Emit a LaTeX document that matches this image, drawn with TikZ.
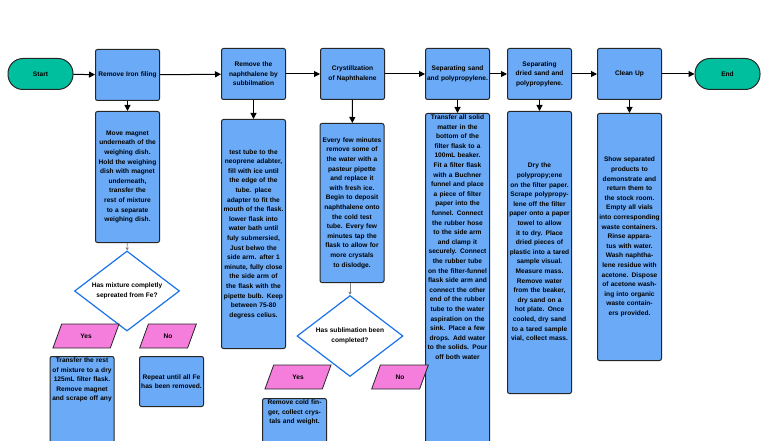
\documentclass[tikz,border=0pt]{standalone}
\usepackage{fontspec}
\setmainfont{Liberation Sans}
\usetikzlibrary{shapes.geometric,arrows.meta}
\definecolor{boxblue}{HTML}{6AAAF7}
\definecolor{dblue}{HTML}{1A73E8}
\definecolor{pinkf}{HTML}{F57EDD}
\definecolor{tealf}{HTML}{00BF9F}
\begin{document}
\begin{tikzpicture}[x=1pt,y=-1pt,
  every node/.style={font=\fontsize{6.6}{9.6}\selectfont\bfseries, inner sep=1.5pt},
  box/.style={draw=black!85, line width=1pt, fill=boxblue, rounded corners=2pt, text width=61pt, align=center},
  hdr/.style={box, minimum height=51pt},
  term/.style={draw=black!85, line width=1pt, fill=tealf, rounded corners=15pt, minimum width=65pt, minimum height=31pt},
  dec/.style={diamond, draw=dblue, line width=1.2pt, fill=white, aspect=1.3, align=center, inner sep=0pt},
  yn/.style={trapezium, trapezium left angle=70, trapezium right angle=110, draw=black!85, line width=0.8pt, fill=pinkf, minimum width=30pt, minimum height=24pt, inner sep=1pt},
  arr/.style={-{Triangle[length=6pt,width=6pt]}, line width=1pt},
  garr/.style={-{Triangle[length=3pt,width=3pt]}, line width=0.6pt, draw=gray}]
\clip (0,0) rectangle (784,441);
\fill[white] (0,0) rectangle (784,441);
\node[term] (start) at (40.5,74) {Start};
\node[term] (end) at (727.5,74) {End};
\node[hdr, anchor=north] (h1) at (127.5,49) {Remove Iron filing};
\node[hdr, anchor=north] (h2) at (253.5,48) {Remove the naphthalene by subbilmation};
\node[hdr, anchor=north] (h3) at (352.5,48) {Crystillzation of Naphthalene};
\node[hdr, anchor=north] (h4) at (457.5,48) {Separating sand and polypropylene.};
\node[hdr, anchor=north] (h5) at (539.5,48) {Separating dried sand and polypropylene.};
\node[hdr, anchor=north] (h6) at (629.5,48) {Clean Up};

\node[box, anchor=north, minimum height=131pt] (d1) at (127.5,111) {Move magnet underneath of the weighing dish. Hold the weighing dish with magnet underneath, transfer the rest of mixture to a separate weighing dish.};
\node[box, anchor=north, minimum height=229pt] (d2) at (253.5,119) {test tube to the neoprene adabter, fill with ice until the edge of the tube. place adapter to fit the mouth of the flask. lower flask into water bath until fuly submersied, Just belwo the side arm. after 1 minute, fully close the side arm of the flask with the pipette bulb. Keep between 75-80 degress celius.};
\node[box, anchor=north, minimum height=159pt] (d3) at (352,123) {Every few minutes remove some of the water with a pasteur pipette and replace it with fresh ice. Begin to deposit naphthalene onto the cold test tube. Every few minutes tap the flask to allow for more crystals to dislodge.};
\node[box, anchor=north, minimum height=345pt] (d4) at (457.5,113) {};
\node[anchor=north, text width=61pt, align=center] (d4t) at (d4.north) {Transfer all solid matter in the bottom of the filter flask to a 100mL beaker. Fit a filter flask with a Buchner funnel and place a piece of filter paper into the funnel. Connect the rubber hose to the side arm and clamp it securely. Connect the rubber tube on the filter-funnel flask side arm and connect the other end of the rubber tube to the water aspiration on the sink. Place a few drops. Add water to the solids. Pour off both water};
\node[box, anchor=north, minimum height=282pt] (d5) at (539.5,111) {Dry the polypropy;ene on the filter paper. Scrape polypropylene off the filter paper onto a paper towel to allow it to dry. Place dried pieces of plastic into a tared sample visual. Measure mass. Remove water from the beaker, dry sand on a hot plate. Once cooled, dry sand to a tared sample vial, collect mass.};
\node[box, anchor=north, minimum height=247pt] (d6) at (629.5,113) {Show separated products to demonstrate and return them to the stock room. Empty all vials into corresponding waste containers. Rinse apparatus with water. Wash naphthalene residue with acetone. Dispose of acetone washing into organic waste containers provided.};

\node[dec, minimum width=105pt, minimum height=80pt] (q1) at (127,291) {Has mixture completly\\ sepreated from Fe?};
\node[dec, minimum width=106pt, minimum height=81pt] (q2) at (350,336) {Has sublimation been\\ completed?};
\node[yn] (y1) at (86,336) {Yes};
\node[yn] (n1) at (168,336) {No};
\node[yn] (y2) at (298,377) {Yes};
\node[yn] (n2) at (400,377) {No};

\node[box, anchor=north, minimum height=100pt] (t1) at (82,356) {};
\node[anchor=north, text width=61pt, align=center] (t1t) at (t1.north) {Transfer the rest of mixture to a dry 125mL filter flask. Remove magnet and scrape off any};
\node[box, anchor=north, minimum height=50pt] (r1) at (171.5,356) {Repeat until all Fe has been removed.};
\node[box, anchor=north, minimum height=60pt] (c1) at (294.5,398) {};
\node[anchor=north, text width=61pt, align=center] (c1t) at (c1.north) {Remove cold finger, collect crystals and weight.};

\draw[arr] (start) -- (h1);
\draw[arr] (h1) -- (h2);
\draw[arr] (h2) -- (h3);
\draw[arr] (h3) -- (h4);
\draw[arr] (h4) -- (h5);
\draw[arr] (h5) -- (h6);
\draw[arr] (h6) -- (end);
\draw[arr] (h1) -- (d1);
\draw[arr] (h2) -- (d2);
\draw[arr] (h3) -- (d3);
\draw[arr] (h4) -- (d4);
\draw[arr] (h5) -- (d5);
\draw[arr] (h6) -- (d6);
\draw[garr] (d1) -- (q1);
\draw[garr] (d3.south -| q2.north) -- (q2);
\end{tikzpicture}
\end{document}
